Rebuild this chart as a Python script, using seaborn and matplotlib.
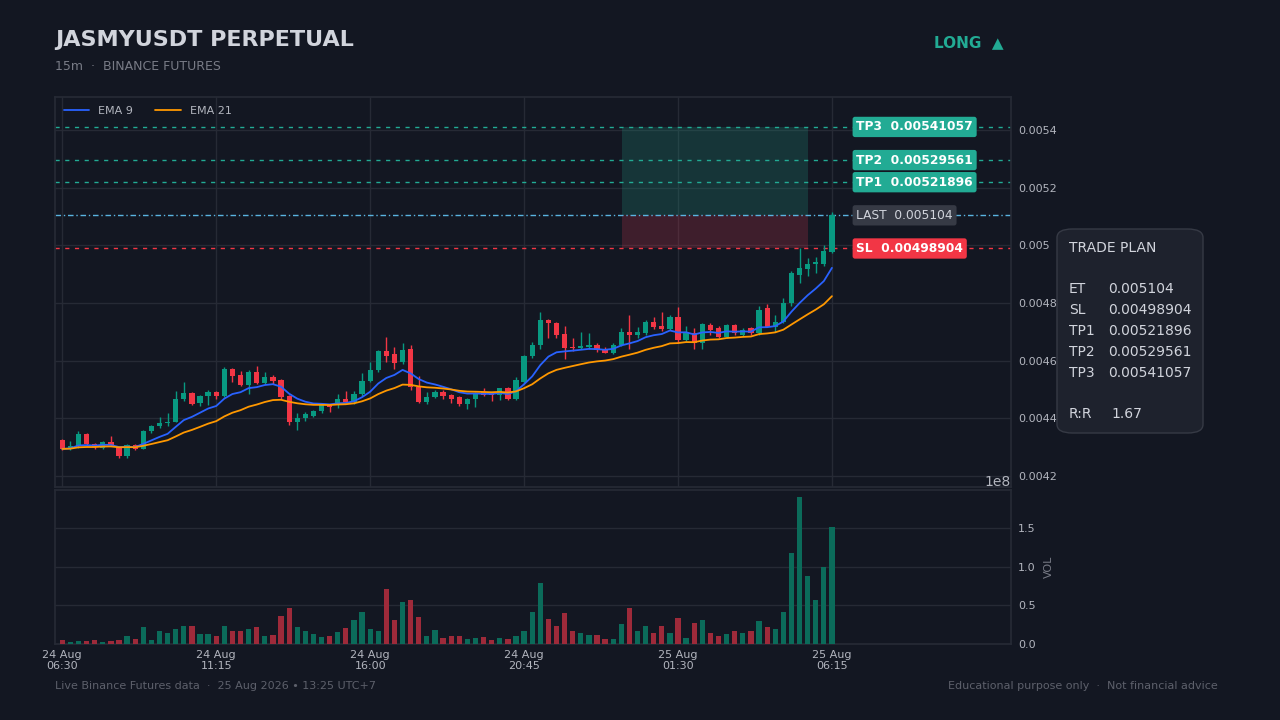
import matplotlib
matplotlib.use("Agg")
import matplotlib.pyplot as plt
from matplotlib.patches import FancyBboxPatch
from matplotlib.ticker import FuncFormatter
import numpy as np
import pandas as pd
import seaborn as sns

# -------------------------------------------------
# Colours
# -------------------------------------------------
BG = "#131722"
GRID = "#262a35"
TXT = "#b2b5be"
DIM = "#787b86"
UP = "#089981"
DN = "#f23645"
UP_VOL = "#0b6b5a"
DN_VOL = "#9e2a3a"
TEAL = "#22ab94"

# -------------------------------------------------
# Data (15m candles, prices in 1e-6 USDT)
# -------------------------------------------------
opens = [4325, 4294, 4304, 4346, 4311, 4296, 4318, 4300, 4270, 4307,
         4295, 4356, 4372, 4384, 4389, 4467, 4488, 4452, 4477, 4492,
         4478, 4571, 4550, 4516, 4560, 4522, 4545, 4533, 4478, 4388,
         4400, 4408, 4425, 4446, 4446, 4467, 4458, 4483, 4530, 4568,
         4635, 4622, 4597, 4640, 4510, 4455, 4475, 4492, 4481, 4475,
         4450, 4467, 4490, 4487, 4481, 4504, 4467, 4527, 4616, 4654,
         4741, 4730, 4693, 4648, 4645, 4647, 4655, 4640, 4628, 4655,
         4700, 4688, 4697, 4735, 4720, 4709, 4753, 4672, 4695, 4660,
         4724, 4712, 4683, 4724, 4689, 4712, 4695, 4782, 4718, 4735,
         4800, 4897, 4917, 4934, 4935, 4978]
highs = [4328, 4321, 4356, 4348, 4315, 4320, 4339, 4302, 4310, 4312,
         4358, 4378, 4406, 4418, 4496, 4525, 4492, 4482, 4497, 4496,
         4578, 4574, 4565, 4566, 4582, 4560, 4550, 4535, 4480, 4417,
         4422, 4430, 4452, 4450, 4485, 4496, 4494, 4558, 4596, 4638,
         4681, 4646, 4660, 4656, 4548, 4490, 4500, 4498, 4484, 4477,
         4470, 4490, 4505, 4490, 4506, 4507, 4545, 4620, 4664, 4770,
         4745, 4735, 4720, 4680, 4700, 4697, 4660, 4648, 4660, 4712,
         4758, 4718, 4740, 4752, 4768, 4760, 4785, 4720, 4712, 4732,
         4730, 4720, 4728, 4728, 4715, 4718, 4790, 4797, 4760, 4818,
         4910, 4990, 4956, 4960, 5001, 5115]
lows = [4290, 4290, 4297, 4305, 4293, 4292, 4303, 4262, 4264, 4290,
        4292, 4350, 4368, 4372, 4386, 4460, 4448, 4443, 4446, 4467,
        4475, 4525, 4512, 4483, 4518, 4518, 4518, 4468, 4377, 4361,
        4390, 4403, 4420, 4422, 4436, 4455, 4450, 4478, 4525, 4560,
        4597, 4572, 4590, 4500, 4452, 4450, 4470, 4468, 4452, 4443,
        4431, 4438, 4478, 4460, 4465, 4464, 4462, 4522, 4610, 4640,
        4680, 4680, 4607, 4635, 4640, 4642, 4630, 4625, 4623, 4650,
        4640, 4680, 4690, 4710, 4703, 4705, 4662, 4668, 4640, 4640,
        4690, 4680, 4680, 4690, 4686, 4688, 4690, 4716, 4700, 4730,
        4790, 4870, 4895, 4905, 4930, 4975]
closes = [4294, 4304, 4346, 4311, 4300, 4318, 4307, 4270, 4307, 4295,
          4356, 4372, 4384, 4389, 4467, 4488, 4450, 4477, 4492, 4478,
          4571, 4548, 4516, 4561, 4522, 4545, 4530, 4475, 4388, 4400,
          4415, 4427, 4446, 4440, 4467, 4458, 4483, 4530, 4568, 4635,
          4617, 4593, 4637, 4507, 4458, 4475, 4492, 4477, 4466, 4450,
          4467, 4487, 4482, 4481, 4504, 4467, 4533, 4616, 4654, 4741,
          4732, 4689, 4645, 4645, 4650, 4653, 4637, 4628, 4655, 4700,
          4688, 4700, 4735, 4716, 4709, 4753, 4672, 4700, 4660, 4727,
          4706, 4683, 4724, 4695, 4706, 4697, 4776, 4718, 4735, 4800,
          4905, 4920, 4935, 4943, 4980, 5105]
# volume in millions
volume_m = [5.2, 2.6, 3.9, 3.9, 5.2, 2.6, 3.9, 5.2, 10.4, 6.5,
            22.0, 5.2, 17.0, 14.3, 19.5, 23.5, 23.5, 13.0, 13.0, 10.4,
            23.5, 17.0, 17.0, 19.5, 22.0, 10.4, 11.7, 36.5, 47.0, 22.0,
            17.0, 13.0, 9.1, 10.4, 15.6, 20.9, 31.3, 41.7, 19.5, 17.0,
            71.7, 31.3, 54.8, 57.4, 35.2, 10.4, 18.0, 7.8, 10.4, 10.4,
            6.5, 7.8, 9.1, 5.2, 7.8, 6.5, 10.4, 17.0, 41.7, 79.6,
            32.6, 23.5, 40.4, 17.0, 14.3, 11.7, 11.7, 6.5, 6.5, 26.0,
            47.0, 17.0, 23.5, 14.3, 23.5, 14.3, 33.9, 7.8, 27.4, 31.3,
            14.3, 10.4, 13.0, 17.0, 14.3, 17.0, 30.0, 22.2, 19.6, 41.7,
            118.7, 190.4, 88.7, 57.4, 100.0, 151.3]

tick_idx = [0, 19, 38, 57, 76, 95]
tick_labels = ["24 Aug\n06:30", "24 Aug\n11:15", "24 Aug\n16:00",
               "24 Aug\n20:45", "25 Aug\n01:30", "25 Aug\n06:15"]

entry = 0.005104
stop = 0.00498904
tp1, tp2, tp3 = 0.00521896, 0.00529561, 0.00541057
rr = 1.67

df = pd.DataFrame({"o": opens, "h": highs, "l": lows, "c": closes}) * 1e-6
df["vol"] = np.array(volume_m) * 1e6
df["i"] = np.arange(len(df))
df["ema9"] = df["c"].ewm(span=9, adjust=False).mean()
df["ema21"] = df["c"].ewm(span=21, adjust=False).mean()
df["up"] = df["c"] >= df["o"]

# -------------------------------------------------
# Figure
# -------------------------------------------------
sns.set_theme(style="dark", rc={
    "figure.facecolor": BG, "axes.facecolor": BG, "axes.edgecolor": GRID,
    "grid.color": GRID, "text.color": TXT, "xtick.color": TXT, "ytick.color": TXT,
    "patch.edgecolor": "none",
})
plt.rcParams["font.family"] = ["DejaVu Sans"]

fig = plt.figure(figsize=(12.8, 7.2), dpi=100)
ax = fig.add_axes([0.04297, 0.32361, 0.74687, 0.54167])
axv = fig.add_axes([0.04297, 0.10556, 0.74687, 0.21389], sharex=ax)

# candles
cols = np.where(df["up"], UP, DN)
ax.vlines(df["i"], df["l"], df["h"], colors=cols, lw=1, zorder=3)
body = np.maximum((df["c"] - df["o"]).abs(), 0.6e-6)
ax.bar(df["i"], body, bottom=np.minimum(df["o"], df["c"]), width=0.65,
       color=cols, linewidth=0, zorder=4)

# EMAs
sns.lineplot(x=df["i"], y=df["ema9"], ax=ax, color="#2962ff", lw=1.3,
             label="EMA 9", zorder=5)
sns.lineplot(x=df["i"], y=df["ema21"], ax=ax, color="#ff9800", lw=1.3,
             label="EMA 21", zorder=5)

# trade zones
ax.fill_between([69.1, 92.0], entry, tp3, color="#1f8f7a", alpha=0.25, lw=0, zorder=1)
ax.fill_between([69.1, 92.0], stop, entry, color="#c2334a", alpha=0.25, lw=0, zorder=1)

# levels
for lvl in (tp1, tp2, tp3):
    ax.axhline(lvl, color=TEAL, lw=1, ls=(0, (3, 4)), zorder=2)
ax.axhline(entry, color="#5ab4e0", lw=1, ls=(0, (4, 2, 1, 2)), zorder=2)
ax.axhline(stop, color=DN, lw=1, ls=(0, (3, 4)), zorder=2)

lab_x = 98.0
box = dict(boxstyle="round,pad=0.3,rounding_size=0.2", ec="none")
for name, lvl in (("TP3", tp3), ("TP2", tp2), ("TP1", tp1)):
    ax.text(lab_x, lvl, f"{name}  {lvl:.8f}", va="center", ha="left", fontsize=8.8,
            weight="bold", color="white", bbox={**box, "fc": TEAL}, zorder=8)
ax.text(lab_x, entry, f"LAST  {entry:.6f}", va="center", ha="left", fontsize=8.8,
        color="#d1d4dc", bbox={**box, "fc": "#363a45"}, zorder=8)
ax.text(lab_x, stop, f"SL  {stop:.8f}", va="center", ha="left", fontsize=8.8,
        weight="bold", color="white", bbox={**box, "fc": DN}, zorder=8)

ax.set_xlim(-0.9, 117.1)
ax.set_ylim(0.0041619, 0.0055144)
ax.set_yticks(np.arange(0.0042, 0.00541, 0.0002))
ax.yaxis.set_major_formatter(FuncFormatter(lambda v, p: f"{round(v, 6):g}"))
ax.yaxis.tick_right()
ax.tick_params(axis="y", length=0, pad=5, labelsize=8, colors=TXT)
ax.tick_params(axis="x", length=0, labelbottom=False)
ax.set_xticks(tick_idx)
ax.grid(True, color=GRID, lw=1)
ax.set_xlabel("")
ax.set_ylabel("")
leg = ax.legend(loc="upper left", ncol=2, frameon=False, fontsize=8,
                labelcolor=TXT, handlelength=2.3, columnspacing=2.0,
                borderaxespad=0.4)

# volume
vcols = np.where(df["up"], UP_VOL, DN_VOL)
axv.bar(df["i"], df["vol"], width=0.65, color=vcols, linewidth=0, zorder=3)
axv.set_ylim(0, 2.0e8)
axv.set_yticks([0, 0.5e8, 1.0e8, 1.5e8])
axv.yaxis.tick_right()
axv.yaxis.set_label_position("right")
axv.set_ylabel("VOL", color=DIM, fontsize=8, labelpad=6)
axv.tick_params(axis="y", length=0, pad=5, labelsize=8, colors=TXT)
axv.tick_params(axis="x", length=0, pad=4, labelsize=8, colors=TXT)
axv.set_xticks(tick_idx)
axv.set_xticklabels(tick_labels)
axv.grid(True, axis="y", color=GRID, lw=1)
axv.grid(False, axis="x")
axv.yaxis.get_offset_text().set_color(TXT)
axv.yaxis.get_offset_text().set_fontsize(10)

for a in (ax, axv):
    for s in a.spines.values():
        s.set_color(GRID)

# header
fig.text(55 / 1280, 1 - 40 / 720, "JASMYUSDT PERPETUAL", fontsize=16, weight="bold",
         color="#d1d4dc", va="center", ha="left")
fig.text(55 / 1280, 1 - 66 / 720, "15m  ·  BINANCE FUTURES", fontsize=9,
         color=DIM, va="center", ha="left")
fig.text(1004 / 1280, 1 - 43 / 720, "LONG  ▲", fontsize=11, weight="bold",
         color=TEAL, va="center", ha="right")

# trade plan panel
panel = FancyBboxPatch((1057 / 1280, 1 - 433 / 720), 146 / 1280, 204 / 720,
                       boxstyle="round,pad=0,rounding_size=0.012",
                       transform=fig.transFigure, fc="#1e222d", ec="#363a45", lw=1)
fig.patches.append(panel)
fig.text(1069 / 1280, 1 - 248 / 720, "TRADE PLAN", fontsize=10, color="#d1d4dc",
         va="center", ha="left")
plan_rows = [("ET", f"{entry:.6f}", 289), ("SL", f"{stop:.8f}", 310),
             ("TP1", f"{tp1:.8f}", 331), ("TP2", f"{tp2:.8f}", 352),
             ("TP3", f"{tp3:.8f}", 373), ("R:R", f"{rr:.2f}", 414)]
for k, v, y in plan_rows:
    fig.text(1069 / 1280, 1 - y / 720, k, fontsize=10, color="#d1d4dc", va="center")
    fig.text((1108 if k != "R:R" else 1111) / 1280, 1 - y / 720, v, fontsize=10,
             color="#d1d4dc", va="center")

# footer
fig.text(55 / 1280, 1 - 686 / 720, "Live Binance Futures data  ·  25 Aug 2026 • 13:25 UTC+7",
         fontsize=8, color="#5d606b", va="center", ha="left")
fig.text(1218 / 1280, 1 - 686 / 720, "Educational purpose only  ·  Not financial advice",
         fontsize=8, color="#5d606b", va="center", ha="right")

fig.savefig("out.png", dpi=100, facecolor=BG)
